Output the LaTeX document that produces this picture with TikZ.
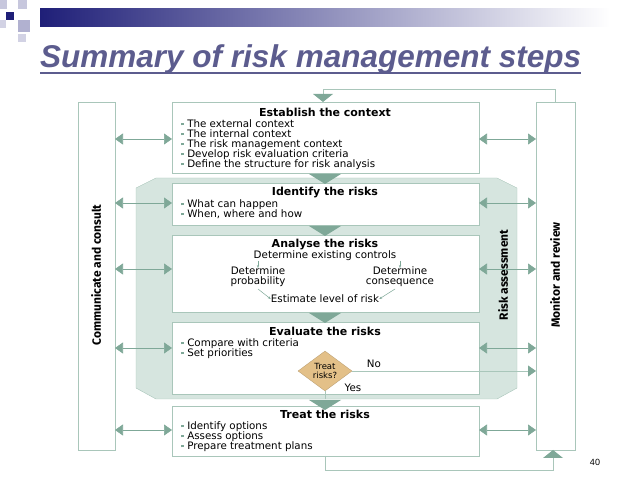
\documentclass[tikz,border=0pt]{standalone}
\usepackage{fontspec}
\setmainfont{DejaVu Sans}
\newfontfamily\titlefont{Liberation Sans}
\newfontfamily\condfont{Fira Sans}
\usetikzlibrary{shapes.geometric,arrows.meta}
\definecolor{ln}{HTML}{A9C6BA}
\definecolor{ar}{HTML}{7FA898}
\definecolor{rafill}{HTML}{D6E5DF}
\definecolor{navy}{HTML}{1F1F78}
\definecolor{ttl}{HTML}{5C5C8E}
\definecolor{dia}{HTML}{E3C088}
\newcommand{\bul}{\textcolor{ar}{\rule[0.3ex]{0.5ex}{0.5ex}}\ }
\begin{document}
\begin{tikzpicture}[x=1pt,y=-1pt,
  boxs/.style={draw=ln,line width=0.8pt,fill=white},
  txt/.style={font=\fontsize{10.3}{10}\selectfont,inner sep=0pt},
  hd/.style={font=\fontsize{11}{10}\selectfont\bfseries,inner sep=0pt},
  rot/.style={rotate=90,font=\condfont\fontsize{12}{12}\selectfont\bfseries},
  dbl/.style={ar,line width=0.7pt,{Triangle[width=11pt,length=8pt]}-{Triangle[width=11pt,length=8pt]}},
  sarr/.style={ar,line width=0.5pt,-{Stealth[length=3pt]}},
  fb/.style={ln,line width=0.9pt}]
\useasboundingbox (0,0) rectangle (638,478);
% header
\shade[left color=navy,right color=white] (40,9) rectangle (610,27);
\fill[navy] (6,12) rectangle (14,20);
\fill[navy!25] (0,0) rectangle (7,9);
\fill[navy!25] (18,0) rectangle (27,9);
\fill[navy!35] (18,20) rectangle (30,32);
\fill[navy!20] (18,34) rectangle (26,42);
\fill[navy!20] (0,20) rectangle (6,28);
\node[anchor=base west,inner sep=0pt,text=ttl,font=\titlefont\fontsize{31.5}{34}\selectfont\bfseries\itshape] (title) at (40,68) {Summary of risk management steps};
\draw[ttl,line width=1.4pt] (40,73) -- (title.base east |- 0,73);
% columns
\draw[boxs] (78,102) rectangle (115,450);
\node[rot] (comm) at (96,275) {Communicate and consult};
\draw[boxs] (536,102) rectangle (575,450);
\node[rot] (mon) at (555,275) {Monitor and review};
% risk assessment region
\fill[rafill,draw=ln] (156,178) -- (497,178) -- (517,188) -- (517,388) -- (497,399) -- (156,399) -- (136,388) -- (136,188) -- cycle;
\node[rot] (ra) at (503,275) {Risk assessment};
% boxes
\draw[boxs] (172,102) rectangle (479,173);
\node[hd] (h1) at (325,112) {Establish the context};
\node[txt,anchor=north west,align=left] (t1) at (181,119) {\bul The external context\\\bul The internal context\\\bul The risk management context\\\bul Develop risk evaluation criteria\\\bul Define the structure for risk analysis};
\draw[boxs] (172,183) rectangle (479,225);
\node[hd] (h2) at (325,193) {Identify the risks};
\node[txt,anchor=north west,align=left] (t2) at (181,199) {\bul What can happen\\\bul When, where and how};
\draw[boxs] (172,235) rectangle (479,312);
\node[hd] (h3) at (325,245) {Analyse the risks};
\node[txt] (dec) at (325,256) {Determine existing controls};
\node[txt,align=center] (dp) at (258,277) {Determine\\probability};
\node[txt,align=center] (dc) at (400,277) {Determine\\consequence};
\node[txt] (est) at (325,299) {Estimate level of risk};
\draw[sarr] (258,261) -- (258,268);
\draw[sarr] (400,261) -- (400,268);
\draw[sarr] (258,289) -- (est.west);
\draw[sarr] (395,289) -- (est.east);
\draw[boxs] (172,322) rectangle (479,394);
\node[hd] (h4) at (325,331) {Evaluate the risks};
\node[txt,anchor=north west,align=left] (t4) at (181,338) {\bul Compare with criteria\\\bul Set priorities};
\draw[boxs] (172,406) rectangle (479,456);
\node[hd] (h5) at (325,414) {Treat the risks};
\node[txt,anchor=north west,align=left] (t5) at (181,421) {\bul Identify options\\\bul Assess options\\\bul Prepare treatment plans};
% diamond
\node[diamond,fill=dia,draw=dia!80!black,line width=0.3pt,minimum width=54pt,minimum height=34pt,inner sep=0pt,align=center,font=\fontsize{8.5}{9.5}\selectfont] (d) at (325,371) {Treat\\risks?};
\draw[ln,line width=0.8pt,-{Triangle[width=11pt,length=8pt,color=ar]}] (d.east) -- (536,371);
\node[txt] (no) at (374,364) {No};
\node[txt] (yes) at (353,388) {Yes};
\draw[ln,line width=0.8pt] (d.south) -- (325,399);
% flow triangles
\foreach \y in {173,225,312,399}{\fill[ar] (309,\y+1) -- (341,\y+1) -- (325,\y+11) -- cycle;}
% double arrows
\foreach \y in {139,203,269,348,430}{
  \draw[dbl] (115,\y) -- (172,\y);
  \draw[dbl] (479,\y) -- (536,\y);}
% feedback
\draw[fb] (555,102) -- (555,89) -- (323,89) -- (323,96);
\fill[ar] (313,94) -- (333,94) -- (323,102) -- cycle;
\draw[fb] (325,456) -- (325,470) -- (553,470) -- (553,458);
\fill[ar] (543,458) -- (563,458) -- (553,450) -- cycle;
\node[font=\titlefont\fontsize{9}{10}\selectfont] (pg) at (595,462) {40};
\end{tikzpicture}
\end{document}
